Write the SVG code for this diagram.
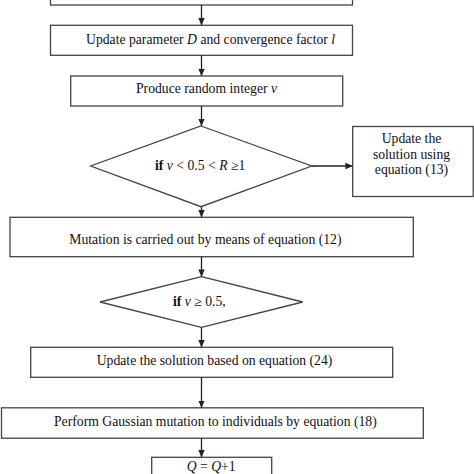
<svg xmlns="http://www.w3.org/2000/svg" width="474" height="474" viewBox="0 0 474 474">
<defs>
<marker id="ah" markerWidth="8" markerHeight="8" refX="7" refY="4" orient="auto" markerUnits="userSpaceOnUse">
<path d="M0,0.8 L7.5,4 L0,7.2 Z" fill="#222"/>
</marker>
<style>
.b{fill:#fff;stroke:#444;stroke-width:1.3}
.t{font-family:"Liberation Serif","Times New Roman",serif;font-size:13.7px;fill:#111}
.i{font-style:italic}
.bd{font-weight:bold}
.c{stroke:#222;stroke-width:1.3;fill:none}
</style>
</defs>
<rect width="474" height="474" fill="#fff"/>
<g id="n0"><rect class="b" x="50.5" y="-10" width="302" height="15"/></g>
<g id="n1"><rect class="b" x="50.5" y="25.3" width="302" height="30"/>
<text class="t" x="86" y="44">Update parameter <tspan class="i">D</tspan> and convergence factor <tspan class="i">l</tspan></text></g>
<g id="n2"><rect class="b" x="70.7" y="76" width="272" height="30"/>
<text class="t" x="136" y="93">Produce random integer <tspan class="i">v</tspan></text></g>
<g id="n3"><polygon class="b" points="201,126 311.7,166 201,206.7 90.7,166"/>
<text class="t" x="155" y="170"><tspan class="bd">if</tspan> <tspan class="i">v</tspan> &lt; 0.5 &lt; <tspan class="i">R</tspan> ≥1</text></g>
<g id="n4"><rect class="b" x="352.7" y="126.5" width="120.5" height="70"/>
<text class="t" text-anchor="middle" x="411.5" y="143">Update the</text>
<text class="t" text-anchor="middle" x="411.5" y="158.5">solution using</text>
<text class="t" text-anchor="middle" x="411.5" y="174">equation (13)</text></g>
<g id="n5"><rect class="b" x="10" y="217.3" width="403.3" height="39.4"/>
<text class="t" x="69.3" y="243.5">Mutation is carried out by means of equation (12)</text></g>
<g id="n6"><polygon class="b" points="201.5,276.7 302.7,302 201.5,327.3 100,302"/>
<text class="t" x="173" y="306"><tspan class="bd">if</tspan> <tspan class="i">v</tspan> ≥ 0.5,</text></g>
<g id="n7"><rect class="b" x="30.7" y="347.3" width="362" height="30"/>
<text class="t" x="96.7" y="365">Update the solution based on equation (24)</text></g>
<g id="n8"><rect class="b" x="1.5" y="407.8" width="421.8" height="30.4"/>
<text class="t" x="54" y="426">Perform Gaussian mutation to individuals by equation (18)</text></g>
<g id="n9"><rect class="b" x="151.7" y="457.3" width="120" height="30"/>
<text class="t" x="186.7" y="470.5"><tspan class="i">Q</tspan> = <tspan class="i">Q</tspan>+1</text></g>
<g id="connectors">
<line class="c" x1="201.5" y1="5" x2="201.5" y2="25" marker-end="url(#ah)"/>
<line class="c" x1="201.5" y1="55.3" x2="201.5" y2="75.7" marker-end="url(#ah)"/>
<line class="c" x1="201.5" y1="106" x2="201.5" y2="125.7" marker-end="url(#ah)"/>
<line class="c" x1="311.7" y1="166" x2="352.4" y2="166" marker-end="url(#ah)"/>
<line class="c" x1="201.5" y1="206.7" x2="201.5" y2="217" marker-end="url(#ah)"/>
<line class="c" x1="201.5" y1="256.7" x2="201.5" y2="276.4" marker-end="url(#ah)"/>
<line class="c" x1="201.5" y1="327.3" x2="201.5" y2="347" marker-end="url(#ah)"/>
<line class="c" x1="201.5" y1="377.3" x2="201.5" y2="407.5" marker-end="url(#ah)"/>
<line class="c" x1="201.5" y1="438.2" x2="201.5" y2="457" marker-end="url(#ah)"/>
</g>
</svg>
